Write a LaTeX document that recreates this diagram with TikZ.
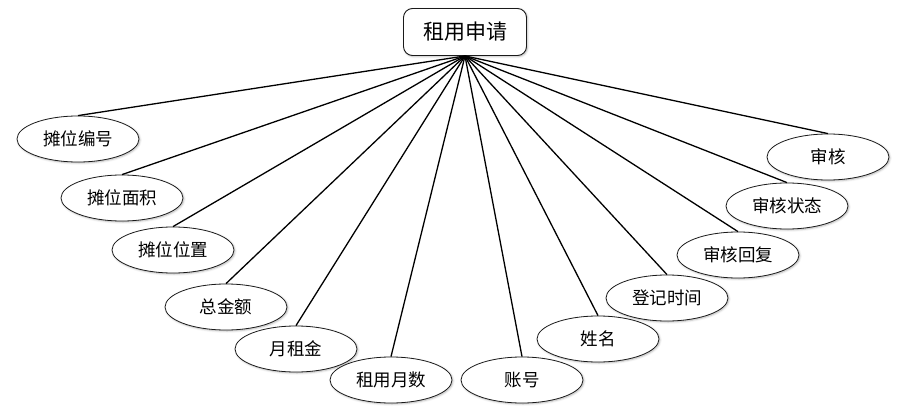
\documentclass[tikz,border=0pt]{standalone}
\usepackage{fontspec}
\usepackage{tikz}
\usetikzlibrary{shapes.geometric,shadows.blur}
\newfontfamily\cjk{Noto Sans CJK SC}
\definecolor{ink}{HTML}{1A1A1A}

\begin{document}
\begin{tikzpicture}[
  x=1pt,y=-1pt,
  entity/.style={draw=ink,line width=0.9pt,rounded corners=9pt,fill=white,
                 minimum width=123pt,minimum height=47pt,inner sep=0pt,
                 font=\cjk\fontsize{21}{25}\selectfont,
                 blur shadow={shadow xshift=1pt,shadow yshift=-1pt,shadow blur radius=2pt,shadow opacity=30}},
  attr/.style={ellipse,draw=ink,line width=0.8pt,fill=white,
               minimum width=122pt,minimum height=46pt,inner sep=0pt,
               font=\cjk\fontsize{17.5}{21}\selectfont,
               blur shadow={shadow xshift=1pt,shadow yshift=-1pt,shadow blur radius=2pt,shadow opacity=30}},
  link/.style={line width=1.3pt,color=black}
]
\useasboundingbox (0,0) rectangle (918,412);

\node[entity] (apply) at (465,32) {租用申请};

\node[attr] (stallno)   at (78,139)  {摊位编号};
\node[attr] (stallarea) at (122,198) {摊位面积};
\node[attr] (stallpos)  at (173,250) {摊位位置};
\node[attr] (total)     at (226,307) {总金额};
\node[attr] (rent)      at (296,349) {月租金};
\node[attr] (months)    at (391,380) {租用月数};
\node[attr] (account)   at (522,380) {账号};
\node[attr] (name)      at (598,339) {姓名};
\node[attr] (regtime)   at (667,298) {登记时间};
\node[attr] (reply)     at (738,255) {审核回复};
\node[attr] (status)    at (787,206) {审核状态};
\node[attr] (audit)     at (828,157) {审核};

\draw[link] (apply.south) -- (stallno.north);
\draw[link] (apply.south) -- (stallarea.north);
\draw[link] (apply.south) -- (stallpos.north);
\draw[link] (apply.south) -- (total.north);
\draw[link] (apply.south) -- (rent.north);
\draw[link] (apply.south) -- (months.north);
\draw[link] (apply.south) -- (account.north);
\draw[link] (apply.south) -- (name.north);
\draw[link] (apply.south) -- (regtime.north);
\draw[link] (apply.south) -- (reply.north);
\draw[link] (apply.south) -- (status.north);
\draw[link] (apply.south) -- (audit.north);
\end{tikzpicture}
\end{document}
